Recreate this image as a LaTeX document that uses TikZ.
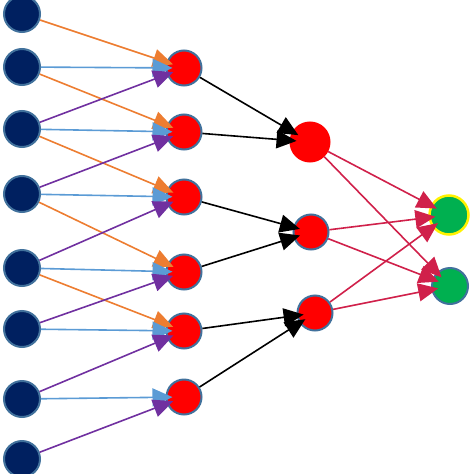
\documentclass[tikz,border=0pt]{standalone}
\usetikzlibrary{arrows.meta}
\definecolor{navy}{HTML}{002060}
\definecolor{rim}{HTML}{41719C}
\definecolor{orng}{HTML}{ED7D31}
\definecolor{lblue}{HTML}{5B9BD5}
\definecolor{purp}{HTML}{7030A0}
\definecolor{crim}{HTML}{D0204A}
\definecolor{grn}{HTML}{00B050}
\tikzset{>={Triangle[length=20pt,width=18pt]}}
\tikzset{
  innode/.style={circle, fill=navy, draw=rim, line width=2pt, minimum size=36pt, inner sep=0pt},
  hidnode/.style={circle, fill=red, draw=rim, line width=2pt, minimum size=35pt, inner sep=0pt},
  outnode/.style={circle, fill=grn, draw=rim, line width=2pt, minimum size=36pt, inner sep=0pt},
  link/.style={->, line width=1.6pt, shorten >=-7pt}
}
\begin{document}
\begin{tikzpicture}[x=1pt, y=-1pt]
	\useasboundingbox (0,0) rectangle (474,474);
	\clip (0,0) rectangle (474,474);
	\foreach \y [count=\i] in {14,67,129,194,268,329,399,459}
	\node [innode] (in\i) at (22,\y) {};
	\foreach \y [count=\i] in {68,132,197,272,331,397}
	\node [hidnode] (hid\i) at (184,\y) {};
	\node [hidnode, draw=red, minimum size=39pt] (mida) at (310,142) {};
	\node [hidnode] (midb) at (311,232) {};
	\node [hidnode] (midc) at (315,313) {};
	\node [outnode, draw=yellow, line width=2.5pt, minimum size=39pt] (outa) at (449,215) {};
	\node [outnode] (outb) at (450,286) {};
	\foreach \i in {1,...,5}
	\draw [link, orng] (in\i) -- (hid\i);
	\foreach \i [evaluate=\i as \j using int(\i+1)] in {1,...,6}
	\draw [link, lblue] (in\j) -- (hid\i);
	\foreach \i [evaluate=\i as \j using int(\i+2)] in {1,...,6}
	\draw [link, purp] (in\j) -- (hid\i);
	\foreach \i/\m in {1/a,2/a,3/b,4/b,5/c,6/c}
	\draw [link, black] (hid\i) -- (mid\m);
	\foreach \m in {a,b,c}
	\foreach \o in {a,b}
	\draw [link, crim] (mid\m) -- (out\o);
\end{tikzpicture}
\end{document}
